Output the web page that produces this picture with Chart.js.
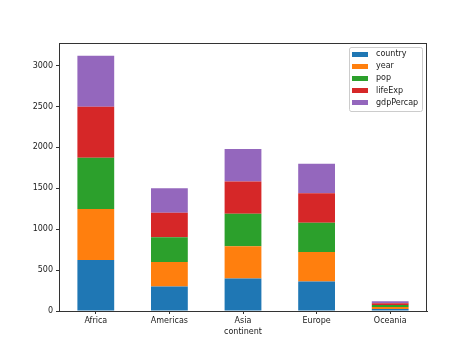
<!DOCTYPE html>
<html>
<head>
<meta charset="utf-8">
<script src="https://cdn.jsdelivr.net/npm/chart.js@4/dist/chart.umd.min.js"></script>
<style>
  html, body { margin: 0; padding: 0; background: #fff; }
  #wrap { width: 474px; height: 355px; }
</style>
</head>
<body>
<div id="wrap"><canvas id="c" width="474" height="355"></canvas></div>
<script>
const continents = ["Africa", "Americas", "Asia", "Europe", "Oceania"];
const country   = [624, 300, 396, 360, 24];
const year      = [624, 300, 396, 360, 24];
const pop       = [624, 300, 396, 360, 24];
const lifeExp   = [624, 300, 396, 360, 24];
const gdpPercap = [624, 300, 396, 360, 24];
const yTicks = [0, 500, 1000, 1500, 2000, 2500, 3000];

const seriesNames = ["country", "year", "pop", "lifeExp", "gdpPercap"];
const seriesData = [country, year, pop, lifeExp, gdpPercap];
const colors = ["#1f77b4", "#ff7f0e", "#2ca02c", "#d62728", "#9467bd"];

const FONT = "DejaVu Sans";
const FS = 8;
const TXT = "#1a1a1a";

const framePlugin = {
  id: "frame",
  afterDraw(chart) {
    const ctx = chart.ctx;
    const a = chart.chartArea;
    ctx.save();
    ctx.strokeStyle = "#333";
    ctx.lineWidth = 1;
    ctx.strokeRect(Math.round(a.left) + 0.5, Math.round(a.top) + 0.5,
                   Math.round(a.right - a.left) - 1, Math.round(a.bottom - a.top));
    // legend
    const lx = 349, ly = 47, lw = 73, lh = 64;
    ctx.fillStyle = "rgba(255,255,255,0.8)";
    ctx.strokeStyle = "#cccccc";
    ctx.lineWidth = 1;
    const r = 2;
    ctx.beginPath();
    ctx.moveTo(lx + r, ly + 0.5);
    ctx.lineTo(lx + lw - r, ly + 0.5);
    ctx.arcTo(lx + lw + 0.5, ly + 0.5, lx + lw + 0.5, ly + r, r);
    ctx.lineTo(lx + lw + 0.5, ly + lh - r);
    ctx.arcTo(lx + lw + 0.5, ly + lh + 0.5, lx + lw - r, ly + lh + 0.5, r);
    ctx.lineTo(lx + r, ly + lh + 0.5);
    ctx.arcTo(lx + 0.5, ly + lh + 0.5, lx + 0.5, ly + lh - r, r);
    ctx.lineTo(lx + 0.5, ly + r);
    ctx.arcTo(lx + 0.5, ly + 0.5, lx + r, ly + 0.5, r);
    ctx.closePath();
    ctx.fill();
    ctx.stroke();
    ctx.font = FS + "px '" + FONT + "'";
    ctx.textBaseline = "middle";
    ctx.textAlign = "left";
    chart.data.datasets.forEach((ds, i) => {
      const cy = 54 + i * 12.2;
      ctx.fillStyle = ds.backgroundColor;
      ctx.fillRect(352, Math.round(cy - 2.5), 16, 5);
      ctx.fillStyle = TXT;
      ctx.fillText(ds.label, 376, cy);
    });
    ctx.restore();
  }
};

new Chart(document.getElementById("c"), {
  type: "bar",
  data: {
    labels: continents,
    datasets: seriesNames.map((n, i) => ({
      label: n,
      data: seriesData[i],
      backgroundColor: colors[i],
      borderWidth: 0,
      categoryPercentage: 1.0,
      barPercentage: 0.5
    }))
  },
  options: {
    responsive: false,
    animation: false,
    devicePixelRatio: 1,
    layout: { padding: { left: 0, top: 43, right: 47, bottom: 18 } },
    plugins: { legend: { display: false }, tooltip: { enabled: false } },
    scales: {
      x: {
        stacked: true,
        grid: { display: true, offset: false, drawOnChartArea: false, drawTicks: true, tickLength: 3, color: "#333" },
        border: { display: true, color: "#333" },
        ticks: { color: TXT, font: { family: FONT, size: FS }, padding: 2, maxRotation: 0 },
        title: { display: true, text: "continent", color: TXT, font: { family: FONT, size: FS }, padding: { top: 0, bottom: 0 } },
        afterFit(scale) { scale.height = 26; }
      },
      y: {
        stacked: true,
        min: 0,
        max: 3276,
        grid: { display: true, drawOnChartArea: false, drawTicks: true, tickLength: 3, color: "#333" },
        border: { display: true, color: "#333" },
        ticks: { stepSize: 500, color: TXT, font: { family: FONT, size: FS }, padding: 3,
                 callback: (v) => String(v) },
        afterBuildTicks(scale) { scale.ticks = yTicks.map(v => ({ value: v })); },
        afterFit(scale) { scale.width = 59; }
      }
    }
  },
  plugins: [framePlugin]
});
</script>
</body>
</html>
